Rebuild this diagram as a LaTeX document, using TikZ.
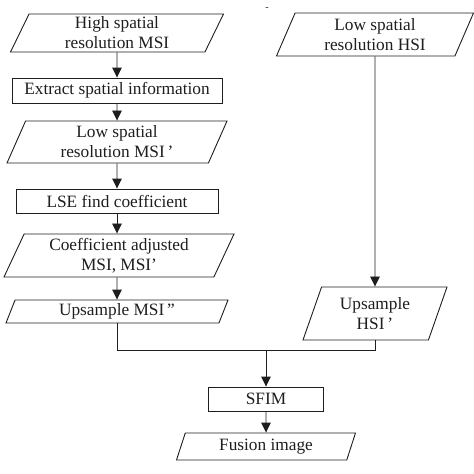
\documentclass[tikz,border=0pt]{standalone}
\usepackage{fontspec}
\setmainfont{Liberation Serif}
\usetikzlibrary{shapes.geometric,arrows.meta}
\definecolor{ink}{RGB}{30,30,30}
\begin{document}
\begin{tikzpicture}[x=1pt,y=-1pt,
  every node/.style={font=\fontsize{17.3}{20}\selectfont, align=center, inner sep=0pt, text=ink},
  para/.style={draw=ink, trapezium, trapezium left angle=60, trapezium right angle=120, trapezium stretches body, line width=0.9pt},
  proc/.style={draw=ink, rectangle, line width=0.9pt},
  arr/.style={draw=ink, -{Triangle[length=10pt,width=9.5pt]}, line width=0.9pt},
  conn/.style={draw=ink, line width=0.9pt}]
\useasboundingbox (0,0) rectangle (474,474);
\node[para, minimum width=213pt, minimum height=38pt] (b1) at (117,33) {High spatial\\resolution MSI};
\node[proc, minimum width=210pt, minimum height=25pt] (b2) at (117,90.5) {Extract spatial information};
\node[para, minimum width=220pt, minimum height=42pt] (b3) at (117,142) {Low spatial\\resolution MSI\,’};
\node[proc, minimum width=202pt, minimum height=24pt] (b4) at (117,201) {LSE find coefficient};
\node[para, minimum width=230pt, minimum height=43pt] (b5) at (119,255.5) {Coefficient adjusted\\MSI, MSI’};
\node[para, minimum width=222pt, minimum height=23pt] (b6) at (117,311.5) {Upsample MSI\,”};
\node[para, minimum width=197pt, minimum height=43pt] (b7) at (375,34.5) {Low spatial\\resolution HSI};
\node[para, minimum width=144pt, minimum height=53pt] (b8) at (375,313.5) {Upsample\\HSI\,’};
\node[proc, minimum width=115pt, minimum height=24pt] (b9) at (266,399) {SFIM};
\node[para, minimum width=179pt, minimum height=27pt] (b10) at (266,446.5) {Fusion image};
\node[font=\fontsize{10}{12}\selectfont] (dash) at (267,9) {-};
\coordinate (j) at (266,350);
\draw[arr] (b1) -- (b2);
\draw[arr] (b2) -- (b3);
\draw[arr] (b3) -- (b4);
\draw[arr] (b4) -- (b5.north -| b4);
\draw[arr] (b5.south -| b4) -- (b6);
\draw[arr] (b7) -- (b8);
\draw[conn] (b6.south) |- (j);
\draw[conn] (b8.south) |- (j);
\draw[arr] (j) -- (b9);
\draw[arr] (b9) -- (b10);
\end{tikzpicture}
\end{document}
